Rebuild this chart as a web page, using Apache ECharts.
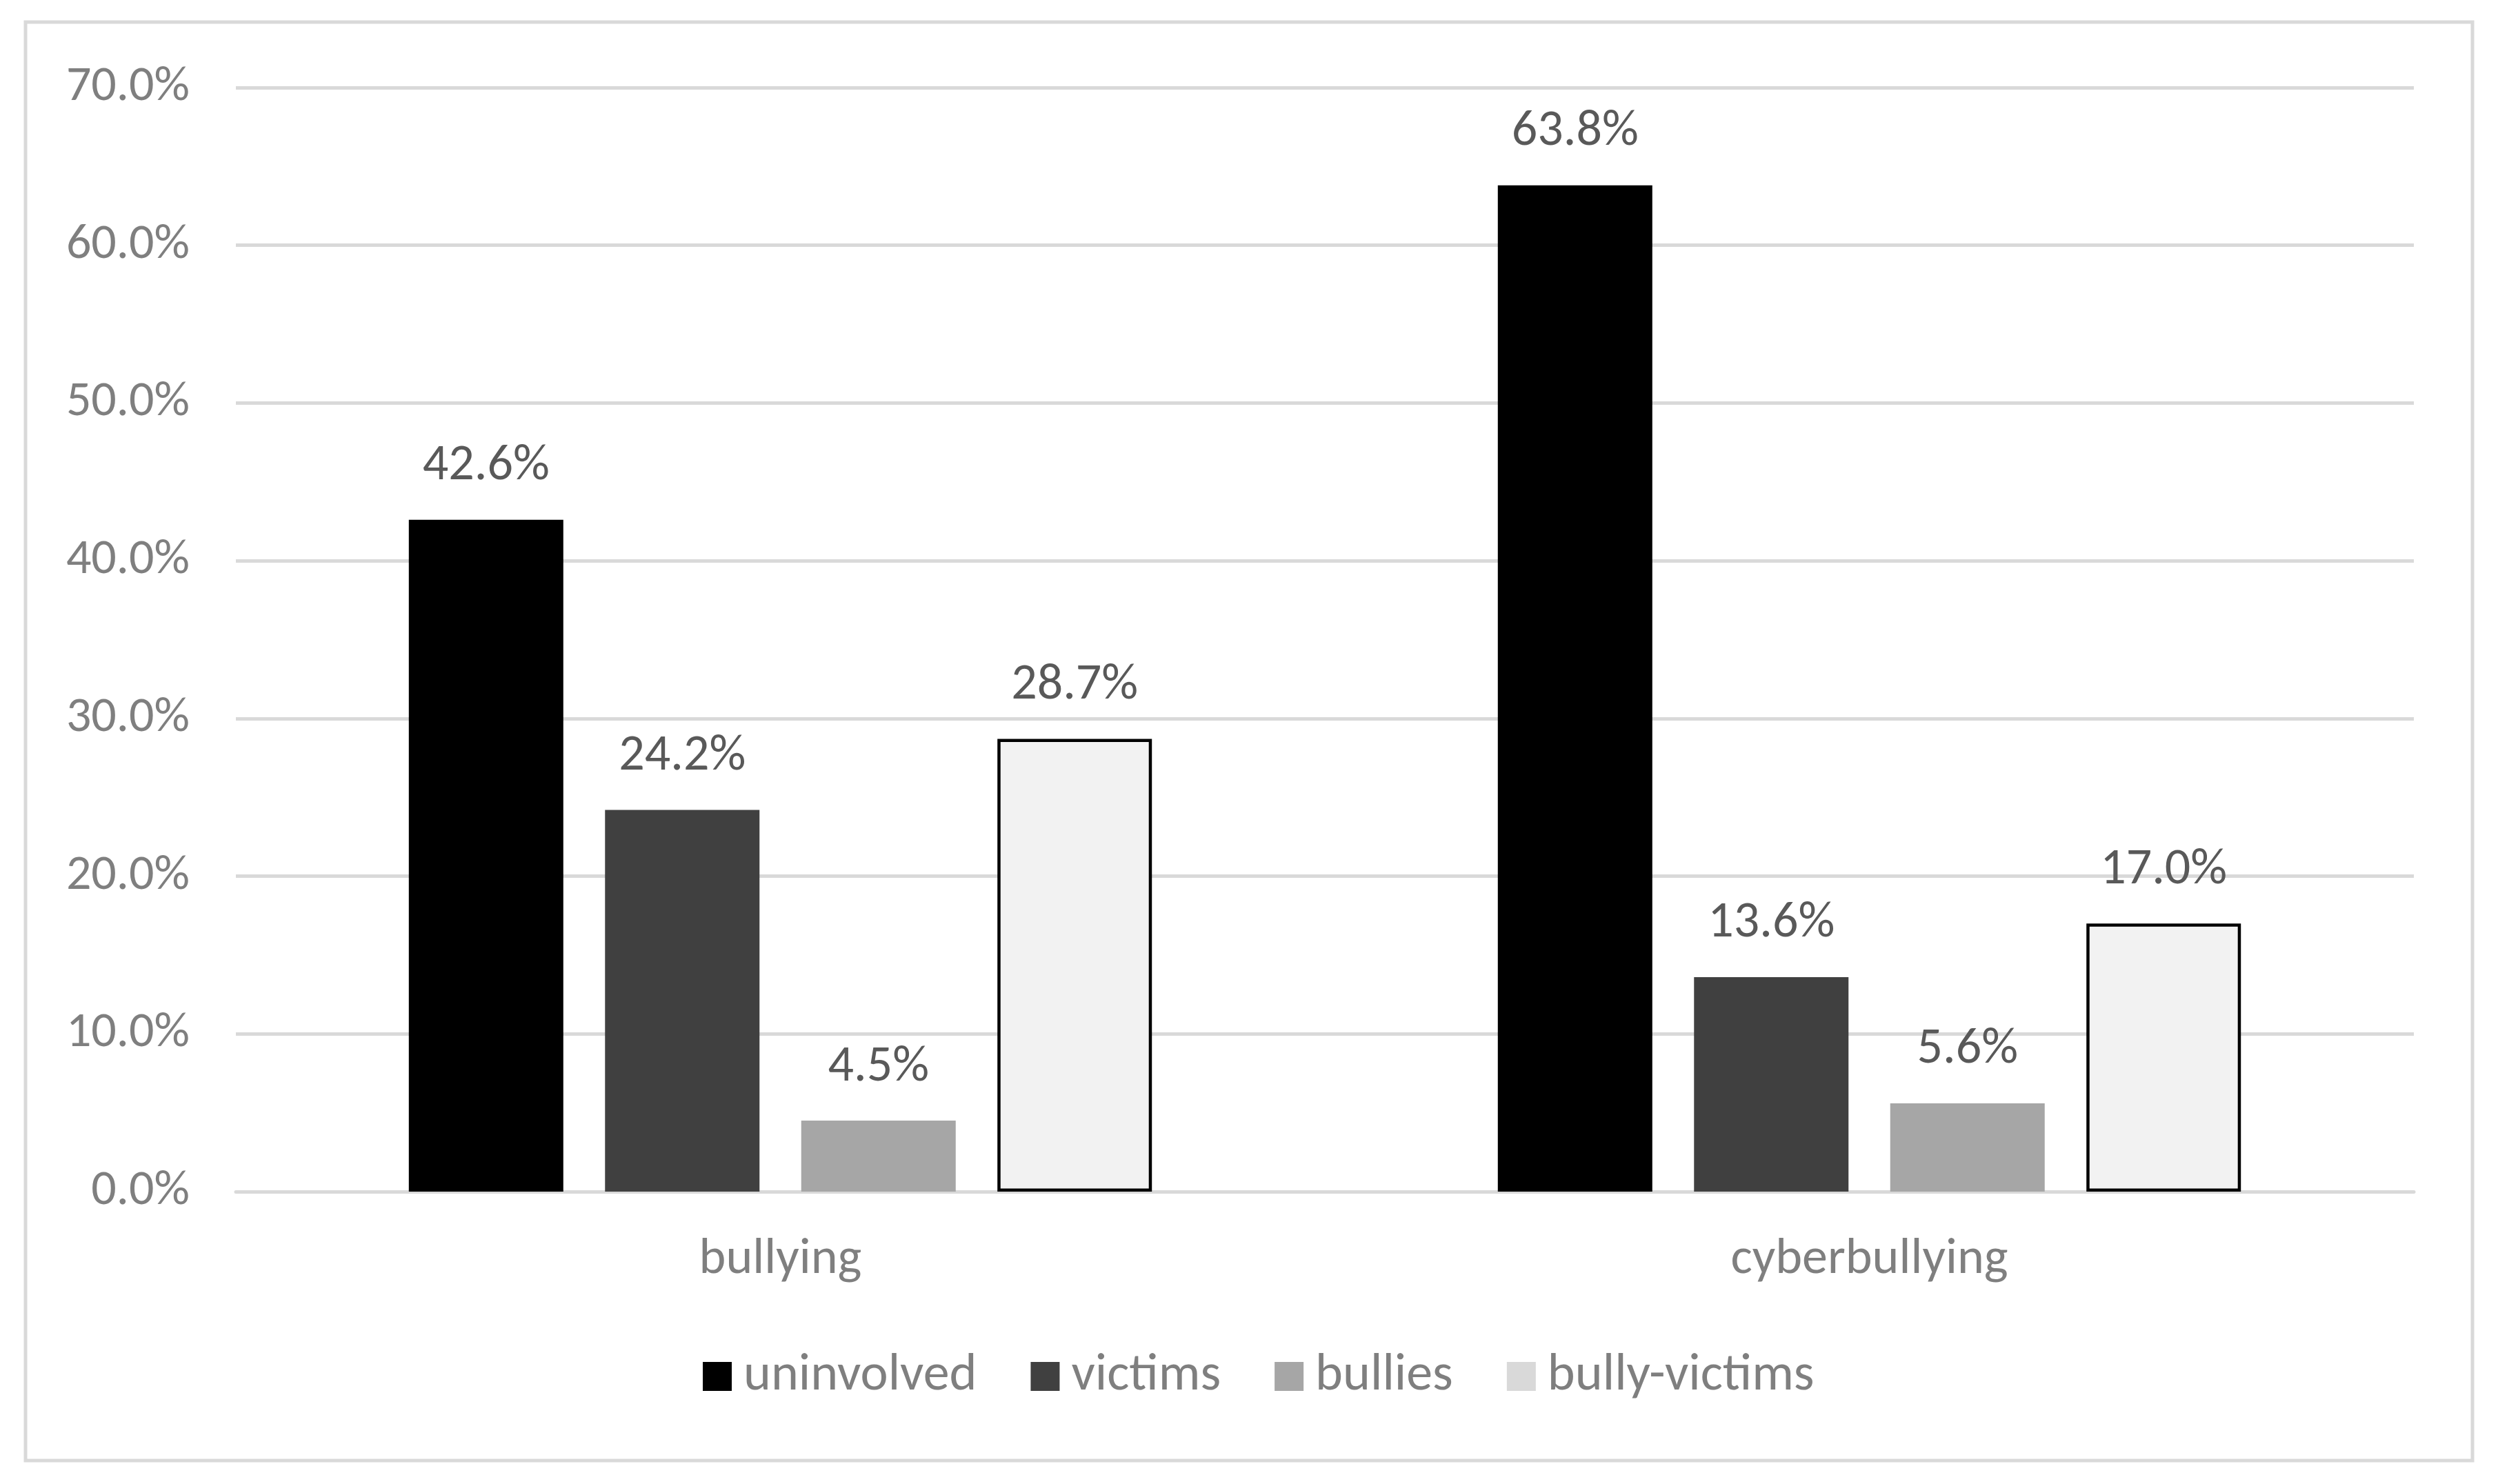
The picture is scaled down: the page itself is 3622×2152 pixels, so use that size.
<!DOCTYPE html>
<html>
<head>
<meta charset="utf-8">
<script src="https://cdn.jsdelivr.net/npm/echarts@6/dist/echarts.min.js"></script>
<style>
html,body{margin:0;padding:0;background:#fff;}
#c{width:3622px;height:2152px;}
</style>
</head>
<body>
<div id="c"></div>
<script>
const categories = ['bullying', 'cyberbullying'];
const seriesNames = ['uninvolved', 'victims', 'bullies', 'bully-victims'];
const uninvolved = [42.6, 63.8];
const victims = [24.2, 13.6];
const bullies = [4.5, 5.6];
const bullyVictims = [28.7, 17.0];
const yTicks = [0, 10, 20, 30, 40, 50, 60, 70];

const FONT = 'Carlito, Lato, "Liberation Sans", sans-serif';
const chart = echarts.init(document.getElementById('c'));

const fills = ['#000000', '#404040', '#a6a6a6', '#f2f2f2'];
const values = [uninvolved, victims, bullies, bullyVictims];

const series = seriesNames.map((n, i) => ({
  name: n,
  type: 'bar',
  data: values[i],
  barWidth: 224,
  barGap: '27%',
  itemStyle: i === 3 ? {color: fills[i], borderColor: '#000', borderWidth: 4.5} : {color: fills[i]},
  label: {
    show: true,
    position: 'top',
    distance: 40,
    color: '#595959',
    fontFamily: FONT,
    fontSize: 74,
    formatter: p => p.value.toFixed(1) + '%'
  }
}));

chart.setOption({
  animation: false,
  backgroundColor: '#fff',
  graphic: [{
    type: 'rect',
    shape: {x: 37, y: 32, width: 3548, height: 2086},
    style: {fill: 'none', stroke: '#d9d9d9', lineWidth: 5},
    silent: true
  }],
  grid: {left: 342, right: 122, top: 127, bottom: 424, containLabel: false},
  legend: {
    bottom: 2152 - 2001 - 38,
    left: 1014,
    icon: 'rect',
    itemWidth: 42,
    itemHeight: 42,
    itemGap: 78,
    textStyle: {color: '#7f7f7f', fontFamily: FONT, fontSize: 76, padding: [0, 0, 0, 12]},
    data: seriesNames.map((n, i) => i === 3
      ? {name: n, itemStyle: {color: '#d9d9d9', borderWidth: 0}}
      : {name: n})
  },
  xAxis: {
    type: 'category',
    data: categories,
    axisLine: {show: true, lineStyle: {color: '#d9d9d9', width: 5}},
    axisTick: {show: false},
    axisLabel: {color: '#7f7f7f', fontFamily: FONT, fontSize: 74, margin: 62}
  },
  yAxis: {
    type: 'value',
    min: yTicks[0],
    max: yTicks[yTicks.length - 1],
    interval: 10,
    axisLine: {show: false},
    axisTick: {show: false},
    splitLine: {lineStyle: {color: '#d9d9d9', width: 5}},
    axisLabel: {color: '#7f7f7f', fontFamily: FONT, fontSize: 72, margin: 67,
      formatter: v => v.toFixed(1) + '%'}
  },
  series: series
});
</script>
</body>
</html>
